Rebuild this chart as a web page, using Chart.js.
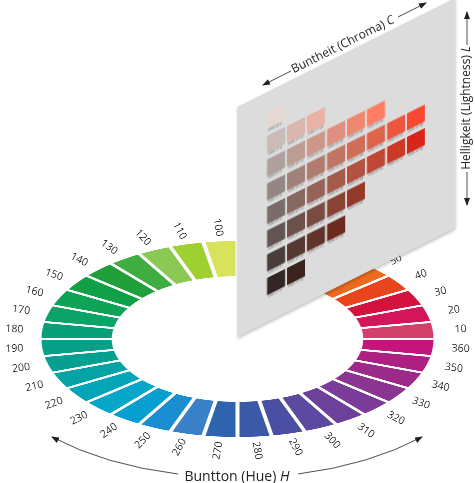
<!DOCTYPE html>
<html>
<head>
<meta charset="utf-8">
<script src="https://cdn.jsdelivr.net/npm/chart.js@4/dist/chart.umd.min.js"></script>
<style>
  html, body { margin: 0; padding: 0; background: #fff; }
  #wrap { position: relative; width: 475px; height: 483px; overflow: hidden; font-family: 'Open Sans', sans-serif; }
  #ring { position: absolute; left: 0; top: 89px; width: 475px; height: 500px; transform: scaleY(0.5); transform-origin: 50% 50%; }
  #panel { position: absolute; left: 237px; top: 107px; width: 218px; height: 230px; background: #dcdcdc;
           transform: skewY(-26.57deg); transform-origin: 0 0; box-shadow: 1px 2px 3px rgba(0,0,0,0.25); }
  #over { position: absolute; left: 0; top: 0; }
</style>
</head>
<body>
<div id="wrap">
  <canvas id="ring" width="475" height="500"></canvas>
  <canvas id="panel" width="218" height="230"></canvas>
  <svg id="over" width="475" height="483">
    <defs>
      <marker id="ah" markerWidth="8" markerHeight="6" refX="7" refY="3" orient="auto" markerUnits="userSpaceOnUse">
        <path d="M0,0 L8,3 L0,6 z" fill="#222"/>
      </marker>
    </defs>
    <g stroke="#222" stroke-width="0.8" fill="none">
      <line x1="291" y1="71" x2="263" y2="85" marker-end="url(#ah)"/>
      <line x1="398" y1="17" x2="426" y2="3" marker-end="url(#ah)"/>
      <line x1="467" y1="45" x2="467" y2="12" marker-end="url(#ah)"/>
      <line x1="467" y1="172" x2="467" y2="205" marker-end="url(#ah)"/>
      <path d="M178,474 A261,139 0 0 1 52,437" marker-end="url(#ah)"/>
      <path d="M298,474 A261,139 0 0 0 422,437" marker-end="url(#ah)"/>
    </g>
    <g fill="#222" font-family="Open Sans, sans-serif">
      <text transform="translate(343,45) rotate(-26.57)" text-anchor="middle" dominant-baseline="middle" font-size="12">Buntheit (Chroma) <tspan font-style="italic">C</tspan></text>
      <text transform="translate(467,108) rotate(-90)" text-anchor="middle" dominant-baseline="middle" font-size="12">Helligkeit (Lightness) <tspan font-style="italic">L</tspan></text>
      <text x="237" y="481" text-anchor="middle" font-size="14">Buntton (Hue) <tspan font-style="italic">H</tspan></text>
    </g>
  </svg>
</div>
<script>
// --- DATOS ---
const hues = [10, 20, 30, 40, 50, 60, 70, 80, 90, 100, 110, 120, 130, 140, 150, 160, 170, 180,
              190, 200, 210, 220, 230, 240, 250, 260, 270, 280, 290, 300, 310, 320, 330, 340, 350, 360];
const hueColors = ['#d4406c', '#d3165a', '#d5123e', '#e8451c', '#ee6a1f', '#f29a1f', '#f5c22a', '#e8dc3a', '#dce44a',
                   '#d9e25b', '#9fd032', '#8cc954', '#3fad40', '#1fa03a', '#10a048', '#0ea357', '#0aa368', '#08a078',
                   '#079f87', '#06a093', '#05a3a5', '#03a5b8', '#05a6c8', '#079fd0', '#1a8ed0', '#3a80c8', '#2e63b0',
                   '#3a5aa8', '#4a4fa3', '#5b4aa0', '#6c4199', '#7a3c98', '#8b3592', '#9b2a88', '#ad1f80', '#c4167a'];
const hiddenLabels = [60, 70, 80, 90];

const chromaCols = [6, 14, 24, 36, 48, 60, 72, 84];
const lightnessRows = [87, 77, 67, 57, 47, 37, 27, 17];
const firstRow = [1, 2, 2, 3, 3, 3, 4, 4];
const lastRow = [8, 8, 7, 7, 6, 5, 5, 5];
const swatchHue = 38;

// --- LCh -> sRGB ---
function lch2rgb(L, C, H) {
  const h = H * Math.PI / 180;
  const a = C * Math.cos(h), b = C * Math.sin(h);
  let fy = (L + 16) / 116, fx = fy + a / 500, fz = fy - b / 200;
  const inv = t => t > 0.206893 ? t * t * t : (t - 16 / 116) / 7.787;
  const X = 0.95047 * inv(fx), Y = inv(fy), Z = 1.08883 * inv(fz);
  let r = 3.2406 * X - 1.5372 * Y - 0.4986 * Z;
  let g = -0.9689 * X + 1.8758 * Y + 0.0415 * Z;
  let bl = 0.0557 * X - 0.2040 * Y + 1.0570 * Z;
  const gam = v => { v = v > 0.0031308 ? 1.055 * Math.pow(v, 1 / 2.4) - 0.055 : 12.92 * v; return Math.round(Math.min(1, Math.max(0, v)) * 255); };
  return 'rgb(' + gam(r) + ',' + gam(g) + ',' + gam(bl) + ')';
}

// --- 1. CÍRCULO DE TONOS ---
const ringOrder = hues.slice().reverse();
const ringColors = hueColors.slice().reverse();

const labelPlugin = {
  id: 'hueLabels',
  afterDraw(chart) {
    const ctx = chart.ctx;
    const arc = chart.getDatasetMeta(0).data[0];
    const cx = arc.x, cy = arc.y, R = 224;
    ctx.save();
    ctx.fillStyle = '#333';
    ctx.font = "10.5px 'Open Sans', sans-serif";
    ctx.textAlign = 'center';
    ctx.textBaseline = 'middle';
    hues.forEach(h => {
      if (hiddenLabels.includes(h)) return;
      const t = (h - 5) * Math.PI / 180;
      let ang = Math.atan2(-0.5 * Math.sin(t), Math.cos(t));
      if (Math.cos(t) < 0) ang += Math.PI;
      ctx.save();
      ctx.translate(cx + R * Math.cos(t), cy - R * Math.sin(t));
      ctx.scale(1, 2);
      ctx.rotate(ang);
      ctx.fillText(String(h), 0, 0);
      ctx.restore();
    });
    ctx.restore();
  }
};

new Chart(document.getElementById('ring').getContext('2d'), {
  type: 'doughnut',
  data: { labels: ringOrder.map(String), datasets: [{ data: ringOrder.map(() => 10), backgroundColor: ringColors, borderColor: '#fff', borderWidth: 4 }] },
  options: {
    responsive: false, animation: false, devicePixelRatio: 2,
    rotation: 90, cutout: '62.5%',
    layout: { padding: { left: 37.5, right: 37.5, top: 50, bottom: 50 } },
    plugins: { legend: { display: false }, tooltip: { enabled: false } }
  },
  plugins: [labelPlugin]
});

// --- 2. PANEL DE MUESTRAS ---
function makeSwatch(color, L, C) {
  const c = document.createElement('canvas');
  c.width = 18; c.height = 21;
  const g = c.getContext('2d');
  g.fillStyle = color;
  g.fillRect(0, 0, 18, 17);
  g.fillStyle = '#555';
  g.font = "3px 'Open Sans', sans-serif";
  g.fillText('5000 ' + L + ' ' + C, 1, 20);
  return c;
}

const points = [], swatches = [];
chromaCols.forEach((c, i) => {
  for (let r = firstRow[i]; r <= lastRow[i]; r++) {
    const L = lightnessRows[r - 1];
    points.push({ x: i + 1, y: r });
    swatches.push(makeSwatch(lch2rgb(L, c, swatchHue), L, c));
  }
});

new Chart(document.getElementById('panel').getContext('2d'), {
  type: 'scatter',
  data: { datasets: [{ data: points, pointStyle: swatches, pointRadius: 10, pointHoverRadius: 10, borderWidth: 0 }] },
  options: {
    responsive: false, animation: false, devicePixelRatio: 2,
    layout: { padding: 0 },
    scales: {
      x: { display: false, min: -0.455, max: 9.455 },
      y: { display: false, reverse: true, min: 0.135, max: 8.98 }
    },
    plugins: { legend: { display: false }, tooltip: { enabled: false } }
  }
});
</script>
</body>
</html>
